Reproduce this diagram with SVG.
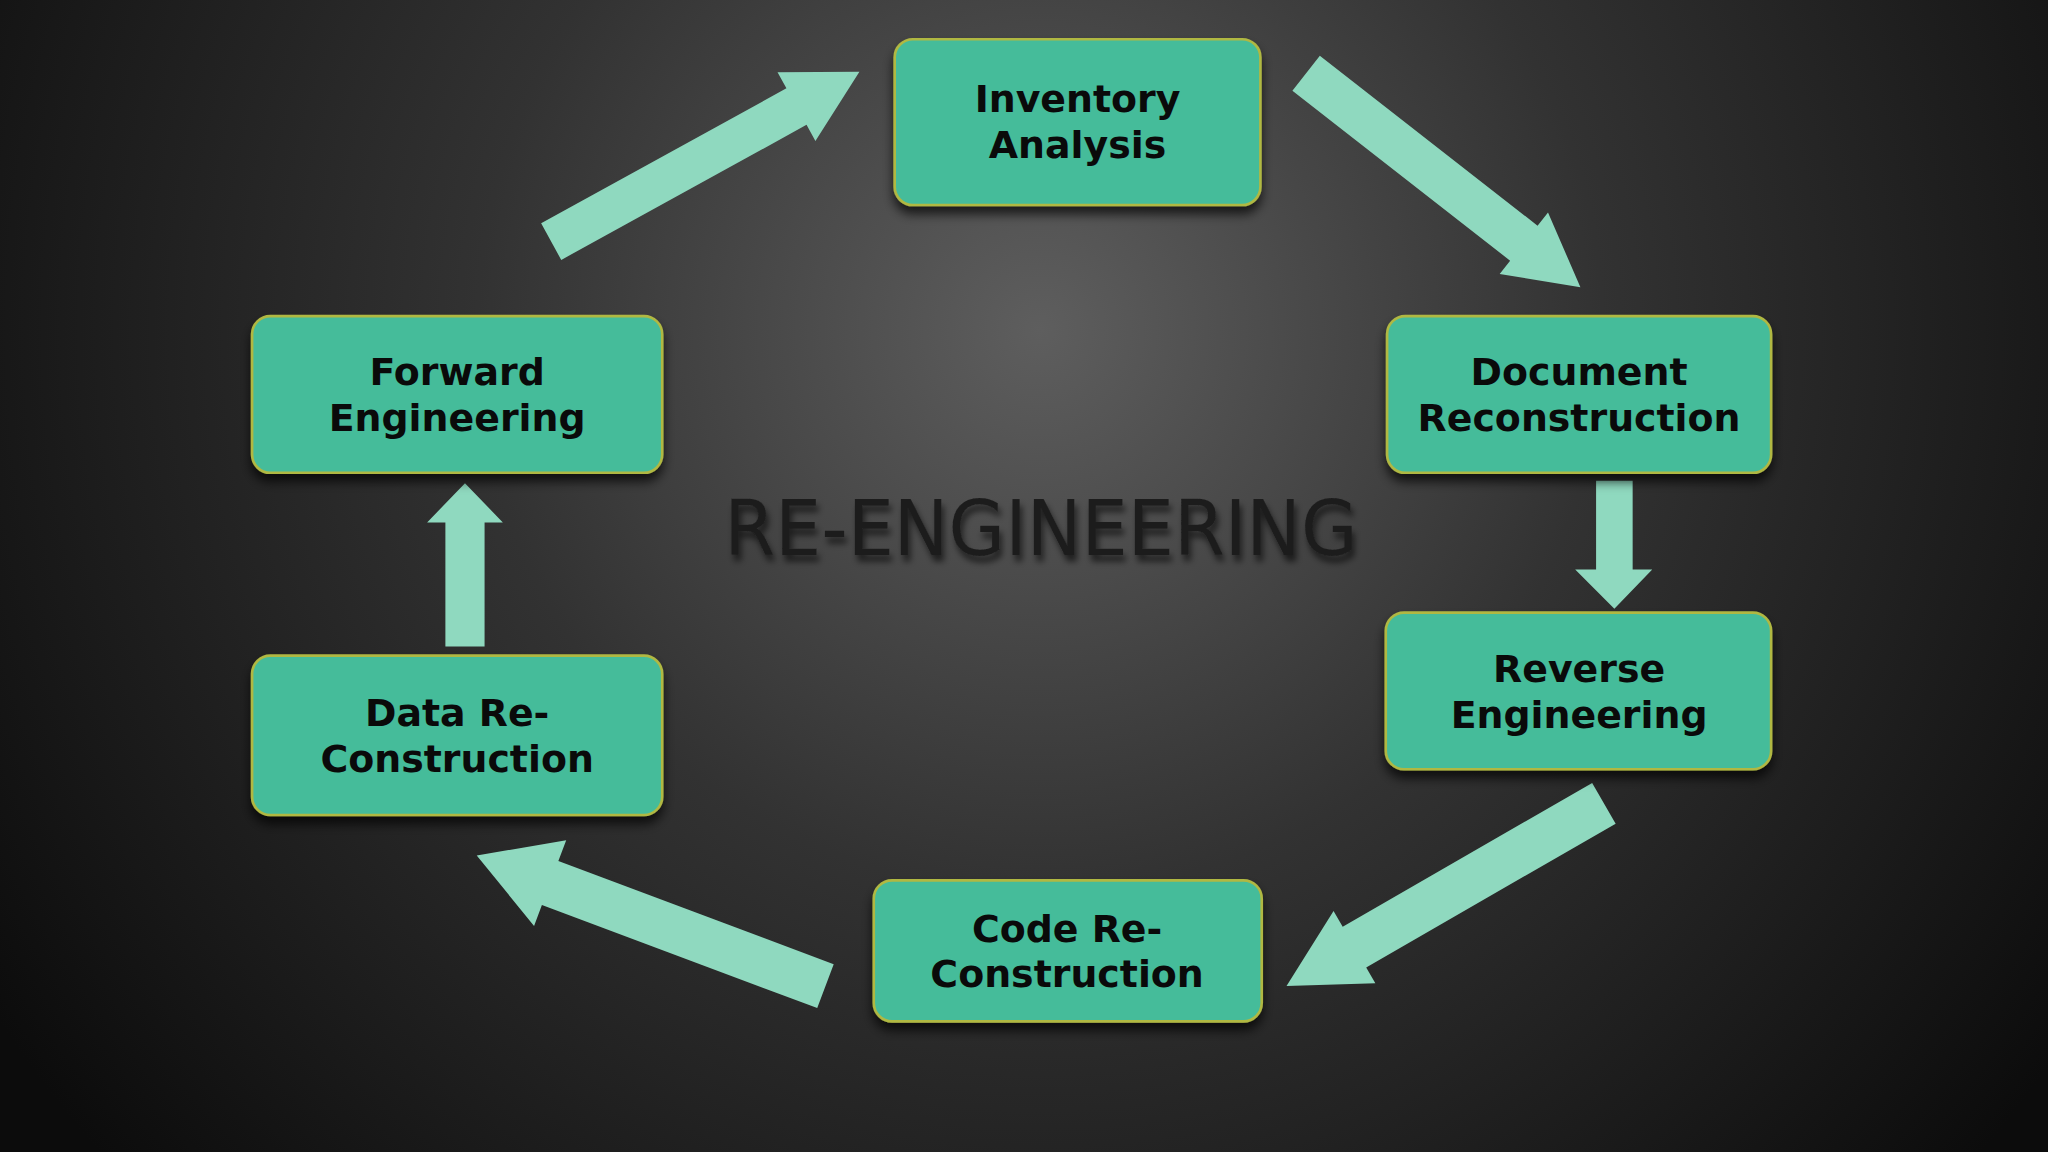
<svg xmlns="http://www.w3.org/2000/svg" width="2048" height="1152" viewBox="0 0 2048 1152">
<defs>
<radialGradient id="bg" cx="1040" cy="330" r="1250" gradientUnits="userSpaceOnUse">
<stop offset="0" stop-color="#5e5e5e"/><stop offset="0.45" stop-color="#323232"/><stop offset="1" stop-color="#0c0c0c"/>
</radialGradient>
<filter id="sh" x="-20%" y="-20%" width="140%" height="150%"><feDropShadow dx="0" dy="6" stdDeviation="4" flood-color="#000" flood-opacity="0.7"/></filter>
<filter id="tsh" x="-10%" y="-30%" width="120%" height="170%"><feDropShadow dx="2" dy="5" stdDeviation="2.5" flood-color="#000" flood-opacity="0.6"/></filter>
<style>
.box{fill:#45bc9a;stroke:#b0b843;stroke-width:2;filter:url(#sh)}
.lbl{font-family:"DejaVu Sans","Liberation Sans",sans-serif;font-weight:bold;font-size:29px;fill:#0a0a0a;text-anchor:middle}
.arr{fill:#8fd9bf}
</style>
</defs>
<rect width="2048" height="1152" fill="url(#bg)"/>
<g transform="scale(1.30612)">
<text x="797" y="425" font-family="'DejaVu Sans','Noto Sans',sans-serif" font-size="58" font-weight="normal" fill="#1e1e1e" text-anchor="middle" textLength="485" lengthAdjust="spacingAndGlyphs" filter="url(#tsh)">RE-ENGINEERING</text>
<g id="connectors">
<polygon class="arr" points="429.7,199 617.5,95.6 624.3,107.9 658,55 595.3,55.3 602.1,67.6 414.3,171"/>
<polygon class="arr" points="989.5,69.4 1156.2,199.6 1148.2,209.8 1210,220 1185.2,162.6 1177.2,172.8 1010.5,42.6"/>
<polygon class="arr" points="1222,368 1250,368 1250,436 1265,436 1236,466 1206,436 1222,436"/>
<polygon class="arr" points="1219,599.4 1028,709.5 1021,697.4 985,755 1053,752.8 1046,740.7 1237,630.6"/>
<polygon class="arr" points="638.3,738.2 427.5,659.3 433.5,643.3 365,655 408.9,708.9 414.9,692.9 625.7,771.8"/>
<polygon class="arr" points="341,495 371,495 371,400 385,400 356,370 327,400 341,400"/>
</g>
<g id="inventory"><rect class="box" x="685" y="30" width="280" height="127" rx="14"/><text class="lbl" x="825" y="86">Inventory</text><text class="lbl" x="825" y="121">Analysis</text></g>
<g id="document"><rect class="box" x="1062" y="242" width="294" height="120" rx="14"/><text class="lbl" x="1209" y="295">Document</text><text class="lbl" x="1209" y="330">Reconstruction</text></g>
<g id="reverse"><rect class="box" x="1061" y="469" width="295" height="120" rx="14"/><text class="lbl" x="1209" y="522">Reverse</text><text class="lbl" x="1209" y="557">Engineering</text></g>
<g id="code"><rect class="box" x="669" y="674" width="297" height="108" rx="14"/><text class="lbl" x="817" y="721">Code Re-</text><text class="lbl" x="817" y="756">Construction</text></g>
<g id="data"><rect class="box" x="193" y="502" width="314" height="122" rx="14"/><text class="lbl" x="350" y="556">Data Re-</text><text class="lbl" x="350" y="591">Construction</text></g>
<g id="forward"><rect class="box" x="193" y="242" width="314" height="120" rx="14"/><text class="lbl" x="350" y="295">Forward</text><text class="lbl" x="350" y="330">Engineering</text></g>
</g>
</svg>
